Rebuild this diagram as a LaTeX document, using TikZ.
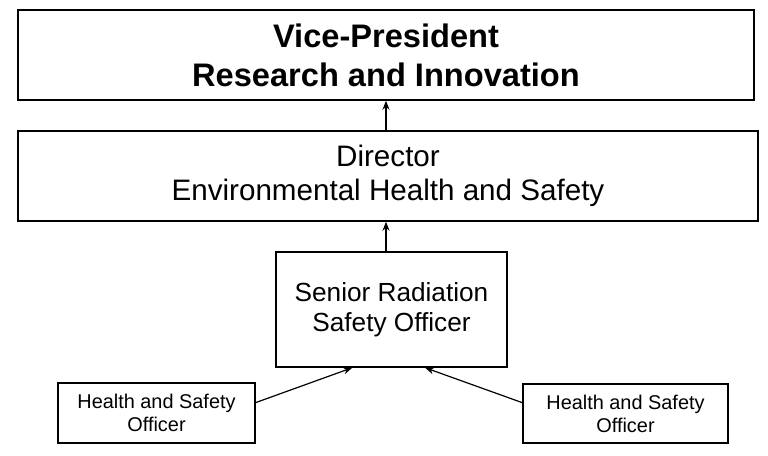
\documentclass[tikz,border=0pt]{standalone}
\usepackage{fontspec}
\setmainfont{Liberation Sans}
\usetikzlibrary{arrows.meta}
\begin{document}
\begin{tikzpicture}[x=1pt,y=-1pt,
    box/.style={draw,line width=1.5pt,inner sep=0pt,align=center},
    link/.style={line width=1.2pt,-{Stealth[length=9pt,width=7pt]}}]
    % Fix the page size
    \useasboundingbox (0,0) rectangle (768,455);
    % Draw top box
    \node[box,minimum width=736pt,minimum height=90pt,
        font=\fontsize{32.6}{39}\selectfont\bfseries] (vp) at (386,55)
        {Vice-President\\Research and Innovation};
    % Draw director box
    \node[box,minimum width=740pt,minimum height=90pt,
        font=\fontsize{29.6}{34}\selectfont] (dir) at (388,176)
        {Director\\Environmental Health and Safety};
    % Draw senior officer box
    \node[box,minimum width=231pt,minimum height=115pt,
        font=\fontsize{26.2}{29.5}\selectfont] (srso) at (391.5,309.5)
        {Senior Radiation\\Safety Officer};
    % Draw the two officer boxes
    \node[box,minimum width=197pt,minimum height=60pt,
        font=\fontsize{19.9}{23}\selectfont] (hsl) at (156.5,413)
        {Health and Safety\\Officer};
    \node[box,minimum width=205pt,minimum height=59pt,
        font=\fontsize{19.9}{23}\selectfont] (hsr) at (625.5,413.5)
        {Health and Safety\\Officer};
    % Draw arrows
    \draw[link] (dir.north -| vp.south) -- (vp.south);
    \draw[link] (srso.north -| vp.south) -- (dir.south -| vp.south);
    \draw[link] (hsl.6) -- (srso.236);
    \draw[link] (hsr.174) -- (srso.300);
\end{tikzpicture}
\end{document}
